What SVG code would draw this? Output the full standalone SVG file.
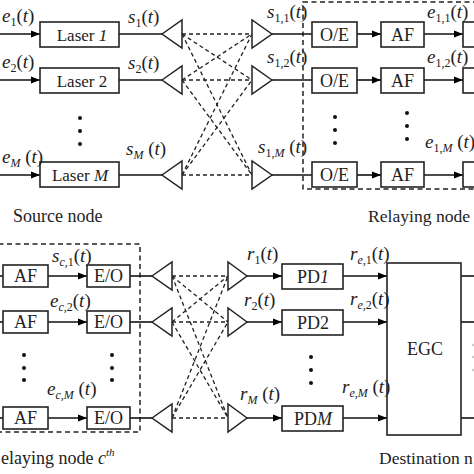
<svg xmlns="http://www.w3.org/2000/svg" width="474" height="474" viewBox="0 0 474 474">
<defs>
<marker id="ar" viewBox="0 0 10 10" refX="10" refY="5" markerWidth="9" markerHeight="9" markerUnits="userSpaceOnUse" orient="auto"><path d="M0,1 L10,5 L0,9 z" fill="#000"/></marker>
<style>
.box{fill:#fff;stroke:#222;stroke-width:1.6}
.ln{stroke:#111;stroke-width:1.6;fill:none}
.da{stroke:#222;stroke-width:1.3;fill:none;stroke-dasharray:4,3}
.grp{stroke:#222;stroke-width:1.5;fill:none;stroke-dasharray:5,3.5}
.tri{fill:#fff;stroke:#222;stroke-width:1.5}
text{font-family:"Liberation Serif","Times New Roman",serif;fill:#222}
.bt{font-size:18px;text-anchor:middle}
.lb{font-size:19px}
.cap{font-size:18px}
.i{font-style:italic}
.s{font-size:12px}
</style>
</defs>
<rect width="474" height="474" fill="#fff"/>

<!-- group boundaries -->
<rect class="grp" x="303" y="2" width="200" height="187"/>
<rect class="grp" x="-10" y="244" width="150" height="188"/>

<g id="connectors">
  <line class="ln" x1="0" y1="34" x2="40" y2="34" marker-end="url(#ar)"/>
  <line class="ln" x1="0" y1="80" x2="40" y2="80" marker-end="url(#ar)"/>
  <line class="ln" x1="0" y1="175" x2="40" y2="175" marker-end="url(#ar)"/>
  <line class="ln" x1="119" y1="34" x2="162" y2="34"/>
  <line class="ln" x1="119" y1="80" x2="162" y2="80"/>
  <line class="ln" x1="119" y1="175" x2="162" y2="175"/>
  <line class="da" x1="182" y1="34" x2="252" y2="34"/>
  <line class="da" x1="182" y1="34" x2="252" y2="80"/>
  <line class="da" x1="182" y1="34" x2="252" y2="175"/>
  <line class="da" x1="182" y1="80" x2="252" y2="34"/>
  <line class="da" x1="182" y1="80" x2="252" y2="80"/>
  <line class="da" x1="182" y1="80" x2="252" y2="175"/>
  <line class="da" x1="182" y1="175" x2="252" y2="34"/>
  <line class="da" x1="182" y1="175" x2="252" y2="80"/>
  <line class="da" x1="182" y1="175" x2="252" y2="175"/>
  <line class="ln" x1="272" y1="34" x2="312" y2="34"/>
  <line class="ln" x1="272" y1="80" x2="312" y2="80"/>
  <line class="ln" x1="272" y1="175" x2="312" y2="175"/>
  <line class="ln" x1="357" y1="34" x2="381" y2="34" marker-end="url(#ar)"/>
  <line class="ln" x1="357" y1="80" x2="381" y2="80" marker-end="url(#ar)"/>
  <line class="ln" x1="357" y1="175" x2="381" y2="175" marker-end="url(#ar)"/>
  <line class="ln" x1="424" y1="34" x2="463" y2="34" marker-end="url(#ar)"/>
  <line class="ln" x1="424" y1="80" x2="463" y2="80" marker-end="url(#ar)"/>
  <line class="ln" x1="424" y1="175" x2="463" y2="175" marker-end="url(#ar)"/>
  <line class="ln" x1="0" y1="276" x2="3" y2="276"/>
  <line class="ln" x1="0" y1="322" x2="3" y2="322"/>
  <line class="ln" x1="0" y1="418" x2="3" y2="418"/>
  <line class="ln" x1="48" y1="276" x2="87" y2="276" marker-end="url(#ar)"/>
  <line class="ln" x1="48" y1="322" x2="87" y2="322" marker-end="url(#ar)"/>
  <line class="ln" x1="48" y1="418" x2="87" y2="418" marker-end="url(#ar)"/>
  <line class="ln" x1="130" y1="276" x2="152" y2="276"/>
  <line class="ln" x1="130" y1="322" x2="152" y2="322"/>
  <line class="ln" x1="130" y1="418" x2="152" y2="418"/>
  <line class="da" x1="172" y1="276" x2="228" y2="276"/>
  <line class="da" x1="172" y1="276" x2="228" y2="322"/>
  <line class="da" x1="172" y1="276" x2="228" y2="418"/>
  <line class="da" x1="172" y1="322" x2="228" y2="276"/>
  <line class="da" x1="172" y1="322" x2="228" y2="322"/>
  <line class="da" x1="172" y1="322" x2="228" y2="418"/>
  <line class="da" x1="172" y1="418" x2="228" y2="276"/>
  <line class="da" x1="172" y1="418" x2="228" y2="322"/>
  <line class="da" x1="172" y1="418" x2="228" y2="418"/>
  <line class="ln" x1="247" y1="276" x2="282" y2="276" marker-end="url(#ar)"/>
  <line class="ln" x1="247" y1="322" x2="282" y2="322" marker-end="url(#ar)"/>
  <line class="ln" x1="247" y1="418" x2="282" y2="418" marker-end="url(#ar)"/>
  <line class="ln" x1="343" y1="276" x2="387" y2="276" marker-end="url(#ar)"/>
  <line class="ln" x1="343" y1="322" x2="387" y2="322" marker-end="url(#ar)"/>
  <line class="ln" x1="343" y1="418" x2="387" y2="418" marker-end="url(#ar)"/>
  <line class="ln" x1="461" y1="276" x2="474" y2="276"/>
  <line class="ln" x1="461" y1="322" x2="474" y2="322"/>
  <line class="ln" x1="461" y1="418" x2="474" y2="418"/>
</g>

<g id="laser1"><rect class="box" x="40" y="22" width="79" height="25"/><text class="bt" x="82" y="41" style="font-size:17px">Laser <tspan class="i">1</tspan></text></g>
<g id="laser2"><rect class="box" x="40" y="68" width="79" height="25"/><text class="bt" x="82" y="87" style="font-size:17px">Laser 2</text></g>
<g id="laserM"><rect class="box" x="40" y="162" width="79" height="25"/><text class="bt" x="80" y="181" style="font-size:17px">Laser <tspan class="i">M</tspan></text></g>
<g id="txS1"><polygon class="tri" points="162,34 182,20 182,48"/></g>
<g id="txS2"><polygon class="tri" points="162,80 182,66 182,94"/></g>
<g id="txSM"><polygon class="tri" points="162,175 182,161 182,189"/></g>

<g id="rx11"><polygon class="tri" points="272,34 252,20 252,48"/></g>
<g id="rx12"><polygon class="tri" points="272,80 252,66 252,94"/></g>
<g id="rx1M"><polygon class="tri" points="272,175 252,161 252,189"/></g>
<g id="oe1"><rect class="box" x="312" y="22" width="45" height="25"/><text class="bt" x="334.5" y="41">O/E</text></g>
<g id="oe2"><rect class="box" x="312" y="68" width="45" height="25"/><text class="bt" x="334.5" y="87">O/E</text></g>
<g id="oeM"><rect class="box" x="312" y="162" width="45" height="25"/><text class="bt" x="334.5" y="181">O/E</text></g>
<g id="af1"><rect class="box" x="381" y="22" width="43" height="25"/><text class="bt" x="402.5" y="41">AF</text></g>
<g id="af2"><rect class="box" x="381" y="68" width="43" height="25"/><text class="bt" x="402.5" y="87">AF</text></g>
<g id="afM"><rect class="box" x="381" y="162" width="43" height="25"/><text class="bt" x="402.5" y="181">AF</text></g>
<g id="next1"><rect class="box" x="463" y="22" width="20" height="25"/></g>
<g id="next2"><rect class="box" x="463" y="68" width="20" height="25"/></g>
<g id="nextM"><rect class="box" x="463" y="162" width="20" height="25"/></g>

<g id="afc1"><rect class="box" x="3" y="265" width="45" height="22"/><text class="bt" x="25.5" y="282">AF</text></g>
<g id="afc2"><rect class="box" x="3" y="311" width="45" height="22"/><text class="bt" x="25.5" y="328">AF</text></g>
<g id="afcM"><rect class="box" x="3" y="407" width="45" height="22"/><text class="bt" x="25.5" y="424">AF</text></g>
<g id="eo1"><rect class="box" x="87" y="265" width="43" height="22"/><text class="bt" x="108.5" y="282">E/O</text></g>
<g id="eo2"><rect class="box" x="87" y="311" width="43" height="22"/><text class="bt" x="108.5" y="328">E/O</text></g>
<g id="eoM"><rect class="box" x="87" y="407" width="43" height="22"/><text class="bt" x="108.5" y="424">E/O</text></g>
<g id="txc1"><polygon class="tri" points="152,276 172,262 172,290"/></g>
<g id="txc2"><polygon class="tri" points="152,322 172,308 172,336"/></g>
<g id="txcM"><polygon class="tri" points="152,418 172,404 172,432"/></g>

<g id="rxd1"><polygon class="tri" points="247,276 228,262 228,290"/></g>
<g id="rxd2"><polygon class="tri" points="247,322 228,308 228,336"/></g>
<g id="rxdM"><polygon class="tri" points="247,418 228,404 228,432"/></g>
<g id="pd1"><rect class="box" x="282" y="264" width="61" height="25"/><text class="bt" x="313" y="283">PD<tspan class="i">1</tspan></text></g>
<g id="pd2"><rect class="box" x="282" y="310" width="61" height="25"/><text class="bt" x="313" y="329">PD2</text></g>
<g id="pdM"><rect class="box" x="282" y="406" width="61" height="25"/><text class="bt" x="313" y="425">PD<tspan class="i">M</tspan></text></g>
<g id="egc"><rect class="box" x="387" y="263" width="74" height="172"/><text class="bt" x="425" y="355">EGC</text></g>

<g fill="#111">
  <circle cx="80" cy="118" r="2"/><circle cx="80" cy="131" r="2"/><circle cx="80" cy="144" r="2"/>
  <circle cx="335" cy="117" r="2"/><circle cx="335" cy="130" r="2"/><circle cx="335" cy="143" r="2"/>
  <circle cx="407" cy="113" r="2"/><circle cx="407" cy="126" r="2"/><circle cx="407" cy="139" r="2"/>
  <circle cx="24" cy="355" r="2"/><circle cx="24" cy="368" r="2"/><circle cx="24" cy="380" r="2"/>
  <circle cx="112" cy="355" r="2"/><circle cx="112" cy="368" r="2"/><circle cx="112" cy="380" r="2"/>
  <circle cx="311" cy="357" r="2"/><circle cx="311" cy="370" r="2"/><circle cx="311" cy="383" r="2"/>
</g>
<g fill="#ccc"><circle cx="473" cy="345" r="1.3"/><circle cx="473" cy="357" r="1.3"/><circle cx="473" cy="370" r="1.3"/></g>

<g class="lb">
<text x="2" y="22"><tspan class="i">e</tspan><tspan class="s" dy="4">1</tspan><tspan dy="-4">(</tspan><tspan class="i">t</tspan>)</text>
<text x="2" y="68"><tspan class="i">e</tspan><tspan class="s" dy="4">2</tspan><tspan dy="-4">(</tspan><tspan class="i">t</tspan>)</text>
<text x="2" y="163"><tspan class="i">e</tspan><tspan class="s i" dy="4">M</tspan><tspan dy="-4"> (</tspan><tspan class="i">t</tspan>)</text>
<text x="128" y="23"><tspan class="i">s</tspan><tspan class="s" dy="4">1</tspan><tspan dy="-4">(</tspan><tspan class="i">t</tspan>)</text>
<text x="128" y="69"><tspan class="i">s</tspan><tspan class="s" dy="4">2</tspan><tspan dy="-4">(</tspan><tspan class="i">t</tspan>)</text>
<text x="126" y="155"><tspan class="i">s</tspan><tspan class="s i" dy="4">M</tspan><tspan dy="-4"> (</tspan><tspan class="i">t</tspan>)</text>
<text x="267" y="18"><tspan class="i">s</tspan><tspan class="s" dy="4">1,1</tspan><tspan dy="-4">(</tspan><tspan class="i">t</tspan>)</text>
<text x="267" y="63"><tspan class="i">s</tspan><tspan class="s" dy="4">1,2</tspan><tspan dy="-4">(</tspan><tspan class="i">t</tspan>)</text>
<text x="258" y="153"><tspan class="i">s</tspan><tspan class="s" dy="4">1,<tspan class="i">M</tspan></tspan><tspan dy="-4"> (</tspan><tspan class="i">t</tspan>)</text>
<text x="427" y="18"><tspan class="i">e</tspan><tspan class="s" dy="4">1,1</tspan><tspan dy="-4">(</tspan><tspan class="i">t</tspan>)</text>
<text x="427" y="63"><tspan class="i">e</tspan><tspan class="s" dy="4">1,2</tspan><tspan dy="-4">(</tspan><tspan class="i">t</tspan>)</text>
<text x="425" y="148"><tspan class="i">e</tspan><tspan class="s" dy="4">1,<tspan class="i">M</tspan></tspan><tspan dy="-4"> (</tspan><tspan class="i">t</tspan>)</text>
<text x="52" y="262"><tspan class="i">s</tspan><tspan class="s" dy="4"><tspan class="i">c</tspan>,1</tspan><tspan dy="-4">(</tspan><tspan class="i">t</tspan>)</text>
<text x="50" y="307"><tspan class="i">e</tspan><tspan class="s" dy="4"><tspan class="i">c</tspan>,2</tspan><tspan dy="-4">(</tspan><tspan class="i">t</tspan>)</text>
<text x="47" y="395"><tspan class="i">e</tspan><tspan class="s" dy="4"><tspan class="i">c</tspan>,<tspan class="i">M</tspan></tspan><tspan dy="-4"> (</tspan><tspan class="i">t</tspan>)</text>
<text x="247" y="260"><tspan class="i">r</tspan><tspan class="s" dy="4">1</tspan><tspan dy="-4">(</tspan><tspan class="i">t</tspan>)</text>
<text x="244" y="306"><tspan class="i">r</tspan><tspan class="s" dy="4">2</tspan><tspan dy="-4">(</tspan><tspan class="i">t</tspan>)</text>
<text x="240" y="400"><tspan class="i">r</tspan><tspan class="s i" dy="4">M</tspan><tspan dy="-4"> (</tspan><tspan class="i">t</tspan>)</text>
<text x="350" y="260"><tspan class="i">r</tspan><tspan class="s" dy="4"><tspan class="i">e</tspan>,1</tspan><tspan dy="-4">(</tspan><tspan class="i">t</tspan>)</text>
<text x="350" y="305"><tspan class="i">r</tspan><tspan class="s" dy="4"><tspan class="i">e</tspan>,2</tspan><tspan dy="-4">(</tspan><tspan class="i">t</tspan>)</text>
<text x="342" y="393"><tspan class="i">r</tspan><tspan class="s" dy="4"><tspan class="i">e</tspan>,<tspan class="i">M</tspan></tspan><tspan dy="-4"> (</tspan><tspan class="i">t</tspan>)</text>
</g>

<text class="cap" x="13" y="222">Source node</text>
<text class="cap" x="368" y="222" style="font-size:17.6px">Relaying node</text>
<text class="cap" x="1" y="464">elaying node <tspan class="i">c</tspan><tspan class="i" font-size="11px" dy="-8">th</tspan></text>
<text class="cap" x="379" y="464" style="font-size:17.5px">Destination n</text>
</svg>
